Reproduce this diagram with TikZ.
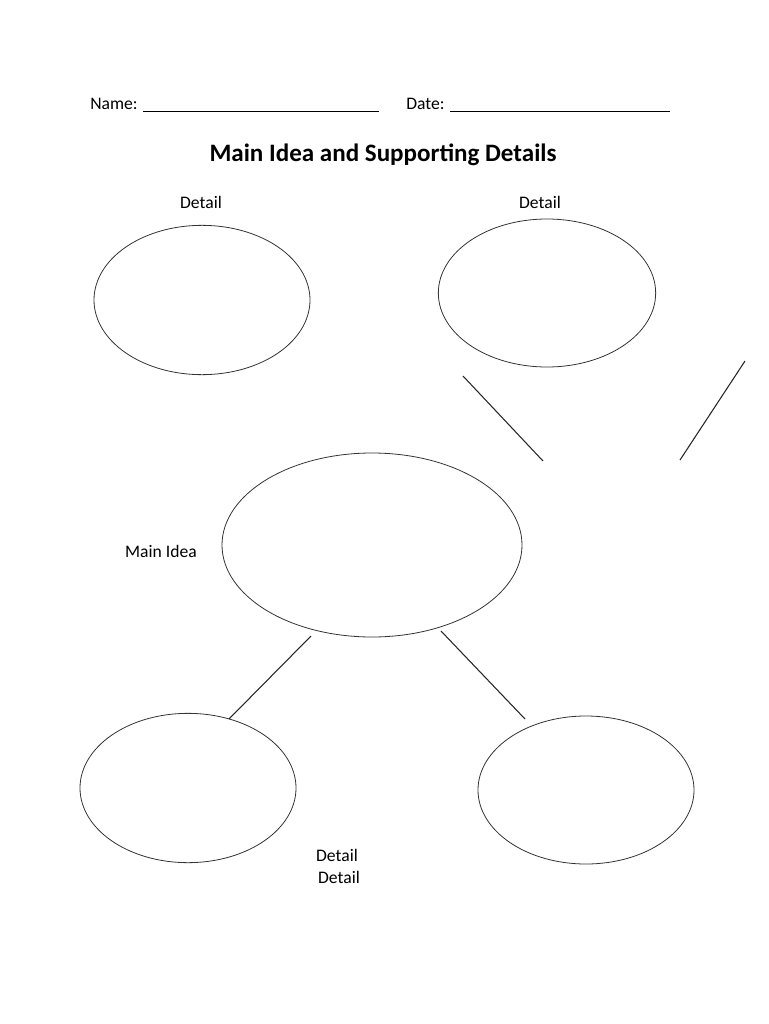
\documentclass[tikz,border=0pt]{standalone}
\usepackage{fontspec}
\setmainfont{Carlito}
\usetikzlibrary{shapes.geometric}
\begin{document}
\begin{tikzpicture}[x=0.75pt,y=-0.75pt,
  oval/.style={draw=black!80,line width=0.6pt,ellipse,inner sep=0pt},
  lbl/.style={font=\fontsize{13.2}{15}\selectfont},
  conn/.style={draw=black!85,line width=0.8pt}]
\useasboundingbox (0,0) rectangle (768,1024);
\node[lbl,anchor=west,inner sep=0pt] (name) at (90,105) {Name: \rule[-1.5pt]{177pt}{0.5pt}};
\node[lbl,anchor=west,inner sep=0pt] (date) at (406,105) {Date: \rule[-1.5pt]{165pt}{0.5pt}};
\node[font=\fontsize{18.8}{22}\selectfont\bfseries] (title) at (383,155) {Main Idea and Supporting Details};
\node[lbl] (d1) at (201,202) {Detail};
\node[lbl] (d2) at (540,202) {Detail};
\node[lbl] (mi) at (161,551) {Main Idea};
\node[lbl] (d3) at (337,855) {Detail};
\node[lbl] (d4) at (339,877) {Detail};
\node[oval,minimum width=162pt,minimum height=112pt] (e1) at (202,300) {};
\node[oval,minimum width=163pt,minimum height=111pt] (e2) at (547,293) {};
\node[oval,minimum width=225pt,minimum height=138pt] (em) at (372,545) {};
\node[oval,minimum width=162pt,minimum height=112pt] (e3) at (188,788) {};
\node[oval,minimum width=162pt,minimum height=111pt] (e4) at (586,790) {};
\coordinate (a1) at (463,376); \coordinate (a2) at (543,461);
\coordinate (b1) at (745,361); \coordinate (b2) at (680,460);
\coordinate (c1) at (311,636); \coordinate (c2) at (229,719);
\coordinate (f1) at (441,631); \coordinate (f2) at (525,719);
\draw[conn] (a1) -- (a2);
\draw[conn] (b1) -- (b2);
\draw[conn] (c1) -- (c2);
\draw[conn] (f1) -- (f2);
\end{tikzpicture}
\end{document}
